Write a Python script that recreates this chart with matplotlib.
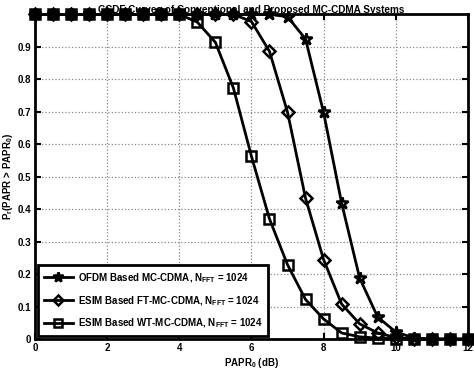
import matplotlib
matplotlib.use("Agg")
import matplotlib.pyplot as plt

plt.rcParams['font.family'] = ['Liberation Sans', 'DejaVu Sans']
plt.rcParams['font.weight'] = 'bold'
plt.rcParams['axes.titleweight'] = 'bold'
plt.rcParams['axes.labelweight'] = 'bold'
plt.rcParams['mathtext.fontset'] = 'custom'
plt.rcParams['mathtext.rm'] = 'Liberation Sans:bold'
plt.rcParams['mathtext.bf'] = 'Liberation Sans:bold'
plt.rcParams['mathtext.it'] = 'Liberation Sans:bold'
plt.rcParams['mathtext.default'] = 'bf'

# PAPR0 in dB, 0.5 dB steps
papr0 = [0, 0.5, 1, 1.5, 2, 2.5, 3, 3.5, 4, 4.5, 5, 5.5, 6, 6.5, 7, 7.5, 8,
         8.5, 9, 9.5, 10, 10.5, 11, 11.5, 12]

ofdm = [1, 1, 1, 1, 1, 1, 1, 1, 1, 1, 1, 1, 1, 1, 0.993, 0.924, 0.698,
        0.419, 0.188, 0.068, 0.022, 0.004, 0, 0, 0]
ft = [1, 1, 1, 1, 1, 1, 1, 1, 1, 1, 1, 1, 0.978, 0.886, 0.699, 0.434, 0.245,
      0.108, 0.047, 0.019, 0.005, 0.001, 0, 0, 0]
wt = [1, 1, 1, 1, 1, 1, 1, 1, 1, 0.976, 0.914, 0.773, 0.563, 0.370, 0.229,
      0.122, 0.062, 0.019, 0.007, 0.003, 0.001, 0, 0, 0, 0]

labels = [r'OFDM Based MC-CDMA, N$_{FFT}$ = 1024',
          r'ESIM Based FT-MC-CDMA, N$_{FFT}$ = 1024',
          r'ESIM Based WT-MC-CDMA, N$_{FFT}$ = 1024']

fig = plt.figure(figsize=(4.74, 3.69), dpi=100)
ax = fig.add_axes([0.074, 0.081, 0.913, 0.88])

common = dict(color='k', lw=2, mfc='none', mew=1.8, clip_on=False)
ax.plot(papr0, ofdm, marker='*', ms=9, label=labels[0], **common)
ax.plot(papr0, ft, marker='D', ms=6, label=labels[1], **common)
ax.plot(papr0, wt, marker='s', ms=6.5, label=labels[2], **common)

ax.set_xlim(0, 12)
ax.set_ylim(0, 1)
ax.set_xticks([0, 2, 4, 6, 8, 10, 12])
ax.set_yticks([0, 0.1, 0.2, 0.3, 0.4, 0.5, 0.6, 0.7, 0.8, 0.9])
ax.set_yticklabels(['0', '0.1', '0.2', '0.3', '0.4', '0.5', '0.6', '0.7', '0.8', '0.9'])
ax.tick_params(direction='in', top=True, right=True, labelsize=7, width=1.5,
               length=4, pad=3)
ax.grid(True, linestyle=':', color='#888888', lw=0.9)
for s in ax.spines.values():
    s.set_linewidth(2)

ax.set_xlabel(r'PAPR$_{0}$ (dB)', fontsize=7, labelpad=2)
ax.set_ylabel(r'P$_{r}$(PAPR > PAPR$_{0}$)', fontsize=7)
ax.yaxis.set_label_coords(-0.047, 0.5)
ax.set_title('CCDF Curves of Conventional and Proposed MC-CDMA Systems',
             fontsize=7.2, pad=1)

leg = ax.legend(loc='lower left', fontsize=7, handlelength=3, fancybox=False,
                framealpha=1, edgecolor='k', borderaxespad=0.3, labelspacing=0.95,
                borderpad=0.6, handletextpad=0.5, markerscale=0.85)
leg.get_frame().set_linewidth(2)

fig.savefig('out.png', dpi=100)
